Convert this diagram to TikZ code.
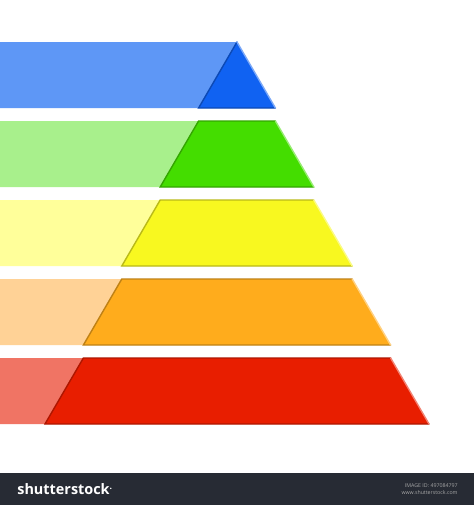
\documentclass[tikz,border=0pt]{standalone}
\usepackage{fontspec}
\setsansfont{Open Sans}
\usepackage{tikz}
\usetikzlibrary{calc}
\definecolor{blueD}{HTML}{1062F2}
\definecolor{blueL}{HTML}{5E97F6}
\definecolor{greenD}{HTML}{44DD00}
\definecolor{greenL}{HTML}{A8F08C}
\definecolor{yellowD}{HTML}{F8F820}
\definecolor{yellowL}{HTML}{FFFF9A}
\definecolor{orangeD}{HTML}{FFAC1C}
\definecolor{orangeL}{HTML}{FFD296}
\definecolor{redD}{HTML}{E81E00}
\definecolor{redL}{HTML}{F07464}
\definecolor{barcol}{HTML}{272B34}

\begin{document}
\begin{tikzpicture}
[
	x = 0.02cm, y = -0.02cm,
	band/.style	= {draw = none},
	rimDark/.style	= {line width = 0.8pt, line cap = round},
	rimLight/.style	= {line width = 0.8pt, line cap = round},
	logo/.style	= {text = white, font = \sffamily\bfseries\fontsize{8.2}{8.2}\selectfont, inner sep = 0pt},
	stamp/.style	= {text = black!35, font = \sffamily\fontsize{3}{3.6}\selectfont, inner sep = 0pt, align = right},
]
	\useasboundingbox [fill = white] (0,0) rectangle (474,505);

	% layers of the pyramid, top to bottom
	\foreach \i/\dk/\lt in {0/blueD/blueL, 1/greenD/greenL, 2/yellowD/yellowL, 3/orangeD/orangeL, 4/redD/redL}
	{
		\pgfmathsetmacro{\yt}{42 + 79*\i}
		\pgfmathsetmacro{\yb}{\yt + 66}
		\pgfmathsetmacro{\xtl}{237 - 38.4*\i}
		\pgfmathsetmacro{\xbl}{237 - 38.4*(\i+1)}
		\pgfmathsetmacro{\xtr}{237 + 38.4*\i}
		\pgfmathsetmacro{\xbr}{237 + 38.4*(\i+1)}
		%
		\coordinate (tl\i) at (\xtl,\yt);
		\coordinate (tr\i) at (\xtr,\yt);
		\coordinate (bl\i) at (\xbl,\yb);
		\coordinate (br\i) at (\xbr,\yb);
		%
		\fill [band, \lt] (0,\yt) -- (tl\i) -- (bl\i) -- (0,\yb) -- cycle;
		\fill [band, \dk] (tl\i) -- (tr\i) -- (br\i) -- (bl\i) -- cycle;
		\draw [rimDark, \dk!75!black] (br\i) -- (bl\i) -- (tl\i) -- (tr\i);
		\draw [rimLight, \dk!55!white] (tr\i) -- (br\i);
	}

	% footer bar
	\fill [barcol] (0,473) rectangle (474,505);
	\node (logo) [logo, anchor = west] at (17,489) {shutterstock\textsuperscript{\tiny .}};
	\node (imgid) [stamp, anchor = east] at (458,489) {IMAGE ID: 497084797\\www.shutterstock.com};

\end{tikzpicture}
\end{document}
